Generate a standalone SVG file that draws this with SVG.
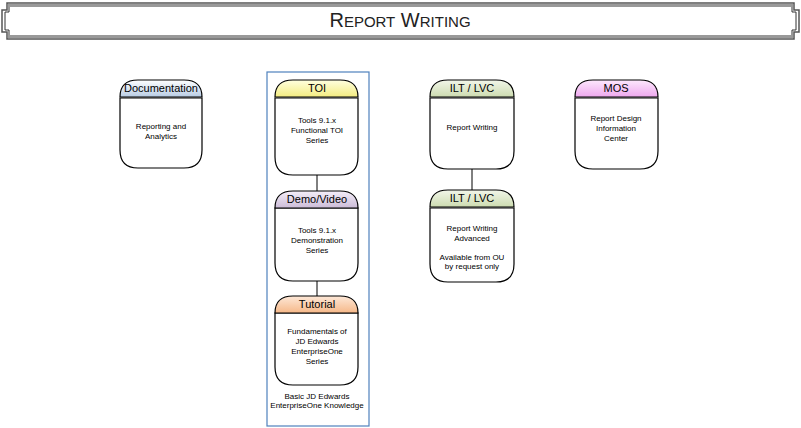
<svg xmlns="http://www.w3.org/2000/svg" width="801" height="428" viewBox="0 0 801 428">
<style>
.box{fill:#fff;stroke:#000;stroke-width:1.2}
.hl{stroke:#000;stroke-width:1}
.h{font-family:"Liberation Sans",Arial,sans-serif;font-size:11px;text-anchor:middle;fill:#000}
.b{font-family:"Liberation Sans",Arial,sans-serif;font-size:8px;text-anchor:middle;fill:#000}
.c{stroke:#000;stroke-width:1;fill:none}
</style>
<defs>
<linearGradient id="gd" x1="0" y1="0" x2="0" y2="1"><stop offset="0" stop-color="#ffffff"/><stop offset="1" stop-color="#b8cce4"/></linearGradient>
<linearGradient id="gt" x1="0" y1="0" x2="0" y2="1"><stop offset="0" stop-color="#ffffe0"/><stop offset="1" stop-color="#f4ec80"/></linearGradient>
<linearGradient id="gv" x1="0" y1="0" x2="0" y2="1"><stop offset="0" stop-color="#f4eef8"/><stop offset="1" stop-color="#ccbcd8"/></linearGradient>
<linearGradient id="go" x1="0" y1="0" x2="0" y2="1"><stop offset="0" stop-color="#fde8d8"/><stop offset="1" stop-color="#f6b888"/></linearGradient>
<linearGradient id="gg" x1="0" y1="0" x2="0" y2="1"><stop offset="0" stop-color="#f2f6ea"/><stop offset="1" stop-color="#cddcb0"/></linearGradient>
<linearGradient id="gp" x1="0" y1="0" x2="0" y2="1"><stop offset="0" stop-color="#fde8fd"/><stop offset="1" stop-color="#eea8ee"/></linearGradient>
</defs>
<g id="title">
<path d="M7,3 H794 V10 H799 V32 H794 V39 H7 V32 H2 V10 H7 Z" fill="#fff" stroke="#555" stroke-width="1.5"/>
<path d="M9,6 H792 V12 H796 V30 H792 V36 H9 V30 H5 V12 H9 Z" fill="none" stroke="#333" stroke-width="1"/>
<rect x="8" y="4" width="785" height="3" fill="#999"/>
<rect x="8" y="35" width="785" height="3" fill="#999"/>
<text x="400" y="27" font-family="'Liberation Sans',Arial,sans-serif" font-size="20" text-anchor="middle" fill="#222">R<tspan font-size="15">EPORT</tspan> W<tspan font-size="15">RITING</tspan></text>
</g>
<rect id="container" x="267" y="72" width="102" height="354" fill="none" stroke="#4f81bd" stroke-width="1.2"/>
<g id="connectors">
<line class="c" x1="317" y1="175" x2="317" y2="191"/>
<line class="c" x1="317" y1="281" x2="317" y2="296"/>
<line class="c" x1="472" y1="169" x2="472" y2="190"/>
</g>
<g id="n-doc">
<path class="box" d="M120,98 V150 Q120,168 138,168 H184 Q202,168 202,150 V98 Z"/>
<path d="M120,97 Q120,80 138,80 H184 Q202,80 202,97 Z" fill="url(#gd)" stroke="#000" stroke-width="1.2"/>
<text class="h" x="161" y="92">Documentation</text>
<text class="b" x="161" y="129">Reporting and</text><text class="b" x="161" y="139">Analytics</text>
</g>
<g id="n-toi">
<path class="box" d="M275,98 V157 Q275,175 293,175 H340 Q358,175 358,157 V98 Z"/>
<path d="M275,97 Q275,80 293,80 H340 Q358,80 358,97 Z" fill="url(#gt)" stroke="#000" stroke-width="1.2"/>
<text class="h" x="317" y="92">TOI</text>
<text class="b" x="317" y="123">Tools 9.1.x</text><text class="b" x="317" y="133">Functional TOI</text><text class="b" x="317" y="143">Series</text>
</g>
<g id="n-demo">
<path class="box" d="M275,208 V263 Q275,281 293,281 H340 Q358,281 358,263 V208 Z"/>
<path d="M275,208 Q275,191 293,191 H340 Q358,191 358,208 Z" fill="url(#gv)" stroke="#000" stroke-width="1.2"/>
<text class="h" x="317" y="203">Demo/Video</text>
<text class="b" x="317" y="233">Tools 9.1.x</text><text class="b" x="317" y="243">Demonstration</text><text class="b" x="317" y="253">Series</text>
</g>
<g id="n-tut">
<path class="box" d="M275,313 V367 Q275,385 293,385 H340 Q358,385 358,367 V313 Z"/>
<path d="M275,313 Q275,296 293,296 H340 Q358,296 358,313 Z" fill="url(#go)" stroke="#000" stroke-width="1.2"/>
<text class="h" x="317" y="308">Tutorial</text>
<text class="b" x="317" y="334">Fundamentals of</text><text class="b" x="317" y="344">JD Edwards</text><text class="b" x="317" y="354">EnterpriseOne</text><text class="b" x="317" y="364">Series</text>
<text class="b" x="317" y="399" font-size="7.5">Basic JD Edwards</text><text class="b" x="317" y="408" font-size="7.5">EnterpriseOne Knowledge</text>
</g>
<g id="n-ilt1">
<path class="box" d="M430,98 V151 Q430,169 448,169 H496 Q514,169 514,151 V98 Z"/>
<path d="M430,97 Q430,80 448,80 H496 Q514,80 514,97 Z" fill="url(#gg)" stroke="#000" stroke-width="1.2"/>
<text class="h" x="472" y="92">ILT / LVC</text>
<text class="b" x="472" y="130">Report Writing</text>
</g>
<g id="n-ilt2">
<path class="box" d="M430,208 V264 Q430,282 448,282 H496 Q514,282 514,264 V208 Z"/>
<path d="M430,207 Q430,190 448,190 H496 Q514,190 514,207 Z" fill="url(#gg)" stroke="#000" stroke-width="1.2"/>
<text class="h" x="472" y="202">ILT / LVC</text>
<text class="b" x="472" y="231">Report Writing</text><text class="b" x="472" y="241">Advanced</text>
<text class="b" x="472" y="260" font-size="7">Available from OU</text><text class="b" x="472" y="269" font-size="7">by request only</text>
</g>
<g id="n-mos">
<path class="box" d="M575,98 V151 Q575,169 593,169 H640 Q658,169 658,151 V98 Z"/>
<path d="M575,97 Q575,80 593,80 H640 Q658,80 658,97 Z" fill="url(#gp)" stroke="#000" stroke-width="1.2"/>
<text class="h" x="616" y="92">MOS</text>
<text class="b" x="616" y="121">Report Design</text><text class="b" x="616" y="131">Information</text><text class="b" x="616" y="141">Center</text>
</g>
</svg>
